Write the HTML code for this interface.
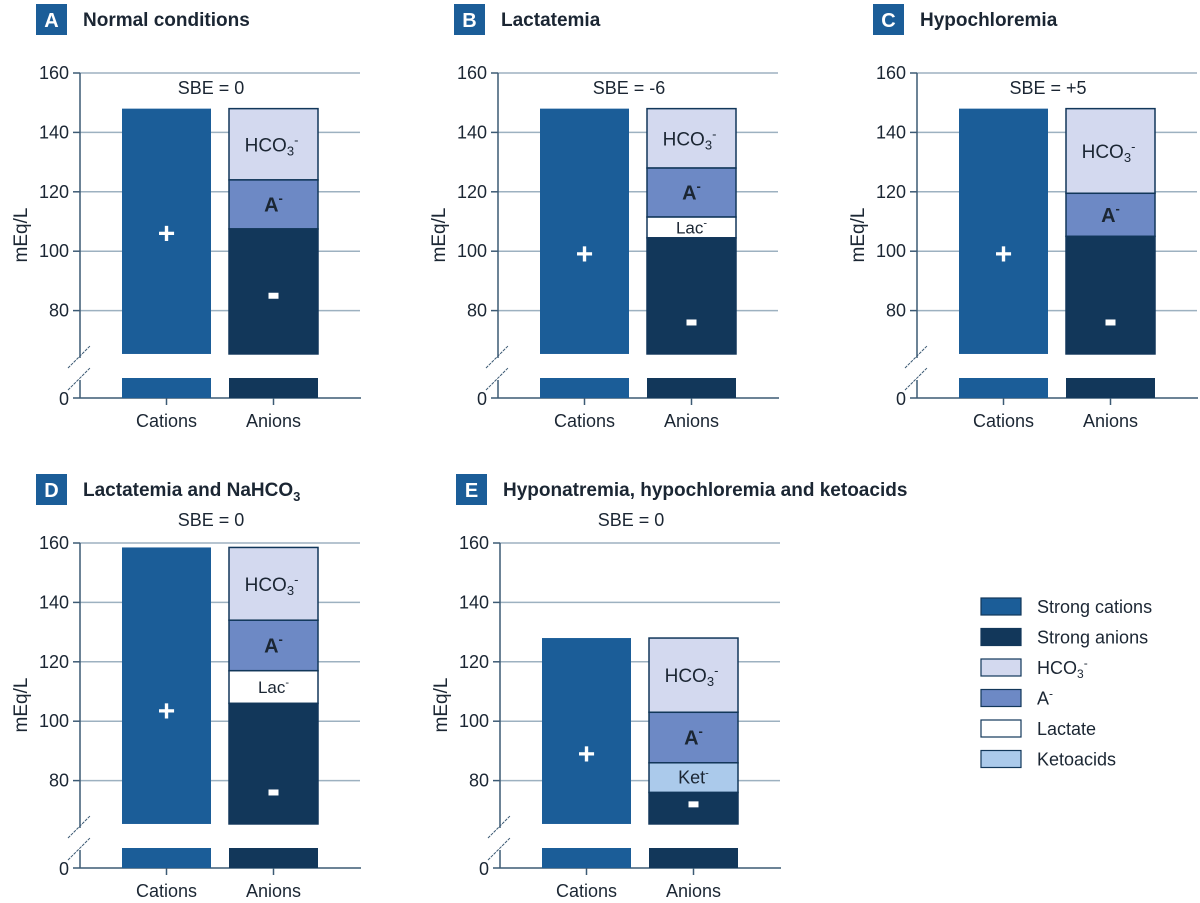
<!DOCTYPE html>
<html><head><meta charset="utf-8">
<style>
html,body{margin:0;padding:0;background:#fff;}
svg{display:block;font-family:"Liberation Sans",Arial,sans-serif;}
</style></head>
<body>
<svg id="chart" width="1200" height="903" viewBox="0 0 1200 903" xmlns="http://www.w3.org/2000/svg">
<g id="legend"></g>
</svg>
<script>
const panelLetters = ["A","B","C","D","E"];
const panelTitles = ["Normal conditions","Lactatemia","Hypochloremia","Lactatemia and NaHCO","Hyponatremia, hypochloremia and ketoacids"];
const panelSBE = ["SBE = 0","SBE = -6","SBE = +5","SBE = 0","SBE = 0"];
const cationTotals = [148,148,148,158.5,128];
const hco3Top = [148,148,148,158.5,128];
const aTop = [124,128,119.5,134,103];
const lacTop = [null,111.5,null,117,null];
const ketTop = [null,null,null,null,86];
const strongAnionTop = [107.5,104.5,105,106,76];
const plusPos = [106,99,99,103.5,89];
const minusPos = [85,76,76,76,72];
const yTicks = [160,140,120,100,80];
const categories = ["Cations","Anions"];
const legendLabels = ["Strong cations","Strong anions","HCO3","A","Lactate","Ketoacids"];

const C = {cat:"#1b5d98",an:"#12375a",hco:"#d3d9ef",a:"#6d89c5",lac:"#ffffff",ket:"#abcaeb",grid:"#9db1c0",axis:"#3c5a74",text:"#1b2633"};
const panelOX = [0,418,837,0,420];
const panelOY = [0,0,0,470,470];
const svg = document.getElementById('chart');
const NS = "http://www.w3.org/2000/svg";
function mk(tag, attrs, parent){const e=document.createElementNS(NS,tag);for(const k in attrs)e.setAttribute(k,attrs[k]);(parent||svg).appendChild(e);return e;}
const PX = 2.97, BREAK = 65.4;

panelLetters.forEach((L,i)=>{
  const ox=panelOX[i], oy=panelOY[i];
  const g=mk('g',{});
  
  
  const y=v=>oy+73+(160-v)*PX;
  const zeroY=oy+398, stubTop=zeroY-20;
  const ax=ox+80;
  const badge=mk('rect',{x:ox+36,y:oy+4,width:31,height:31,fill:C.cat},g);
  
  
  const bt=mk('text',{x:ox+51.5,y:oy+27,fill:'#fff','font-size':20,'font-weight':'bold','text-anchor':'middle'},g);
  bt.textContent=L;
  const tt=mk('text',{x:ox+83,y:oy+26,fill:C.text,'font-size':19,'font-weight':'bold'},g);
  
  
  tt.textContent=panelTitles[i];
  if(i===3){const s=mk('tspan',{'font-size':13,dy:5},tt);s.textContent='3';}
  yTicks.forEach(t=>{
    const gl=mk('line',{x1:ax,x2:ox+360,y1:y(t),y2:y(t),stroke:C.grid,'stroke-width':1.5},g);
    
    
    mk('line',{x1:ax-7,x2:ax,y1:y(t),y2:y(t),stroke:C.axis,'stroke-width':1.5},g);
    const tl=mk('text',{x:ax-11,y:y(t)+6,fill:C.text,'font-size':18,'text-anchor':'end'},g);
    
    
    tl.textContent=t;
  });
  const zl=mk('text',{x:ax-11,y:zeroY+7,fill:C.text,'font-size':18,'text-anchor':'end'},g);zl.textContent='0';
  mk('line',{x1:ax,x2:ax,y1:y(160),y2:oy+358,stroke:C.axis,'stroke-width':1.5},g);
  mk('line',{x1:ax,x2:ax,y1:oy+380,y2:zeroY,stroke:C.axis,'stroke-width':1.5},g);
  mk('line',{x1:ox+68,x2:ox+90,y1:oy+368,y2:oy+346,stroke:C.axis,'stroke-width':1,'stroke-dasharray':'3,1'},g);
  mk('line',{x1:ox+68,x2:ox+90,y1:oy+390,y2:oy+368,stroke:C.axis,'stroke-width':1,'stroke-dasharray':'3,1'},g);
  mk('line',{x1:ax-7,x2:ox+361,y1:zeroY,y2:zeroY,stroke:C.axis,'stroke-width':1.5},g);
  const yt=mk('text',{x:0,y:0,fill:C.text,'font-size':19,'text-anchor':'middle',transform:`translate(${ox+27},${oy+235}) rotate(-90)`},g);
  
  
  yt.textContent='mEq/L';
  const sbeY = (cationTotals[i]>150 || i===4)? oy+56 : oy+94;
  const sb=mk('text',{x:ox+211,y:sbeY,fill:C.text,'font-size':18,'text-anchor':'middle'},g);
  
  
  sb.textContent=panelSBE[i];
  const cx1=ox+122, cx2=ox+229, bw=89;
  const cb=mk('rect',{x:cx1,y:y(cationTotals[i]),width:bw,height:y(BREAK)-y(cationTotals[i]),fill:C.cat},g);
  
  
  mk('rect',{x:cx1,y:stubTop,width:bw,height:20,fill:C.cat},g);
  const pl=mk('text',{x:cx1+bw/2,y:y(plusPos[i])+10,fill:'#fff','font-size':30,'font-weight':'bold','text-anchor':'middle'},g);pl.textContent='+';
  const segs=[];
  segs.push({top:hco3Top[i],fill:C.hco,name:'hco3-segment'});
  segs.push({top:aTop[i],fill:C.a,name:'a-segment'});
  if(lacTop[i]!==null) segs.push({top:lacTop[i],fill:C.lac,name:'lactate-segment'});
  if(ketTop[i]!==null) segs.push({top:ketTop[i],fill:C.ket,name:'ketoacid-segment'});
  segs.push({top:strongAnionTop[i],fill:C.an,name:'strong-anion-segment'});
  segs.forEach((s,k)=>{
    const bot = k<segs.length-1 ? segs[k+1].top : BREAK;
    const r=mk('rect',{x:cx2,y:y(s.top),width:bw,height:y(bot)-y(s.top),fill:s.fill,stroke:C.an,'stroke-width':1.5},g);
    
    
    const my=(y(s.top)+y(bot))/2+6;
    if(s.name==='hco3-segment'){const t=mk('text',{x:cx2+bw/2-2,y:my+1,fill:C.text,'font-size':19,'text-anchor':'middle'},g);t.textContent='HCO';const a=mk('tspan',{'font-size':13,dy:4},t);a.textContent='3';const b=mk('tspan',{'font-size':13,dy:-11},t);b.textContent='-';}
    if(s.name==='a-segment'){const t=mk('text',{x:cx2+bw/2,y:my+1,fill:C.text,'font-size':20,'font-weight':'bold','text-anchor':'middle'},g);t.textContent='A';const b=mk('tspan',{'font-size':13,dy:-9},t);b.textContent='-';}
    if(s.name==='lactate-segment'){const t=mk('text',{x:cx2+bw/2,y:my,fill:C.text,'font-size':17,'text-anchor':'middle'},g);t.textContent='Lac';const b=mk('tspan',{'font-size':11,dy:-7},t);b.textContent='-';}
    if(s.name==='ketoacid-segment'){const t=mk('text',{x:cx2+bw/2,y:my,fill:C.text,'font-size':18,'text-anchor':'middle'},g);t.textContent='Ket';const b=mk('tspan',{'font-size':11,dy:-7},t);b.textContent='-';}
  });
  mk('rect',{x:cx2,y:stubTop,width:bw,height:20,fill:C.an},g);
  mk('rect',{x:cx2+bw/2-5,y:y(minusPos[i])-3,width:10,height:6,fill:'#fff'},g);
  [cx1,cx2].forEach((x,k)=>{
    mk('line',{x1:x+bw/2,x2:x+bw/2,y1:zeroY,y2:zeroY+7,stroke:C.axis,'stroke-width':1.5},g);
    const cl=mk('text',{x:x+bw/2,y:zeroY+29,fill:C.text,'font-size':18,'text-anchor':'middle'},g);
    
    
    cl.textContent=categories[k];
  });
});

const lg=document.getElementById('legend');
const legFills=[C.cat,C.an,C.hco,C.a,C.lac,C.ket];
legendLabels.forEach((lab,k)=>{
  const yy=598+k*30.5;
  const e=mk('g',{},lg);
  
  
  mk('rect',{x:981,y:yy,width:40,height:17,fill:legFills[k],stroke:C.an,'stroke-width':1.2},e);
  const t=mk('text',{x:1037,y:yy+15,fill:C.text,'font-size':18},e);
  t.textContent=lab;
  if(lab==='HCO3'){t.textContent='HCO';const a=mk('tspan',{'font-size':12,dy:4},t);a.textContent='3';const b=mk('tspan',{'font-size':12,dy:-11},t);b.textContent='-';}
  if(lab==='A'){const b=mk('tspan',{'font-size':12,dy:-7},t);b.textContent='-';}
});
</script>
</body></html>
